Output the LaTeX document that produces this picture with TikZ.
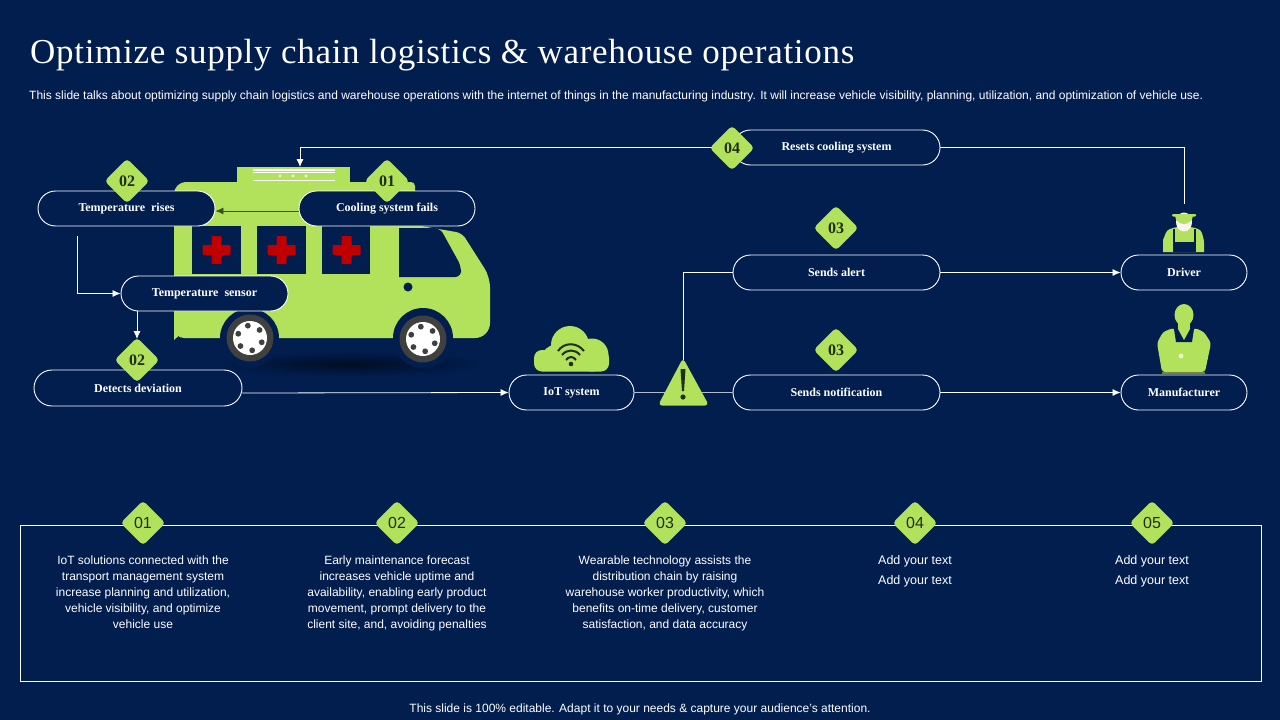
\documentclass[tikz,border=0pt]{standalone}
\usepackage{fontspec}
\setmainfont{Liberation Serif}
\newfontfamily\arialf{Liberation Sans}
\usetikzlibrary{shapes.misc,shapes.geometric,arrows.meta}
\definecolor{bgnavy}{HTML}{011E4F}
\definecolor{lime}{HTML}{B2E15C}
\definecolor{inkdark}{HTML}{1E2E10}
\definecolor{hub}{HTML}{404040}
\definecolor{crossred}{HTML}{C00000}
\tikzset{
  pill/.style={draw=white,line width=0.9pt,fill=bgnavy,rounded rectangle,inner sep=0pt,minimum height=35pt,text=white,font=\fontsize{12}{14}\selectfont\bfseries},
  badge/.style={diamond,fill=lime,rounded corners=4pt,minimum width=45pt,minimum height=45pt,inner sep=0pt,text=inkdark,font=\fontsize{16}{18}\selectfont\bfseries},
  badgeb/.style={badge,font=\arialf\fontsize{16}{18}\selectfont},
  link/.style={draw=white,line width=0.8pt},
  arrowlink/.style={link,-{Latex[length=8pt,width=7pt]}},
  bodytext/.style={text=white,align=center,font=\arialf\fontsize{12}{16}\selectfont},
}
\begin{document}
\begin{tikzpicture}[x=1pt,y=-1pt]
\useasboundingbox (0,0) rectangle (1280,720);
\fill[bgnavy] (0,0) rectangle (1280,720);
% heading
\node[anchor=base west,inner sep=0pt,text=white] (title) at (30,63) {\fontsize{35}{40}\selectfont\addfontfeature{LetterSpace=2}Optimize supply chain logistics \& warehouse operations};
\node[anchor=base west,inner sep=0pt,text=white] (sub) at (29,99) {\arialf\fontsize{12}{14}\selectfont This slide talks about optimizing supply chain logistics and warehouse operations with the internet of things in the manufacturing industry. It will increase vehicle visibility, planning, utilization, and optimization of vehicle use.};
\node[anchor=base,inner sep=0pt,text=white] (foot) at (640,712) {\arialf\fontsize{12}{14}\selectfont This slide is 100\% editable. Adapt it to your needs \& capture your audience’s attention.};
% van shadow
\shade[inner color=black!55!bgnavy,outer color=bgnavy] (350,364) ellipse (140 and 13);
% van
\fill[lime] (237,167) rectangle (350,185);
\fill[lime,rounded corners=14pt] (174,340) -- (174,182) -- (300,182) -- (300,182) [sharp corners] -- (350,182);
\fill[lime] (174,338) [rounded corners=12pt] -- (174,182) [rounded corners=4pt] -- (415,182) -- (415,225) [rounded corners=6pt] -- (462,233) [rounded corners=10pt] -- (490,277) [rounded corners=15pt] -- (490,338) [rounded corners=10pt] -- cycle;
\draw[white,line width=1.2pt] (253,170) -- (335,170);
\draw[white,line width=.6pt] (253,172.5) -- (335,172.5);
\draw[white,line width=.8pt] (253,180) -- (335,180);
\foreach \px in {280,293,306} \fill[white!80!lime] (\px,176) circle (1.7);
% windows
\fill[bgnavy] (192,226) rectangle (241,274);
\fill[bgnavy] (257,226) rectangle (306,274);
\fill[bgnavy] (322,226) rectangle (370,274);
\foreach \cx in {216.5,281.5,346.5} {
  \fill[crossred,rounded corners=1pt] (\cx-5,236) rectangle (\cx+5,264);
  \fill[crossred,rounded corners=1pt] (\cx-14,245) rectangle (\cx+14,255);
}
\fill[bgnavy] (399,228) [rounded corners=6pt] -- (440,228) -- (461,266) -- (461,277) [sharp corners] -- (399,277) -- cycle;
\fill[bgnavy] (408,287) circle (4.5);
% wheels
\fill[bgnavy] (220,338) arc[start angle=180,end angle=360,radius=0] ;
\fill[bgnavy] (249.5,338) circle (29.5);
\fill[bgnavy] (423,338) circle (30);
\foreach \wx/\wy in {250/338,423/339} {
  \fill[hub] (\wx,\wy) circle (23.5);
  \fill[white] (\wx,\wy) circle (17);
  \foreach \ang in {20,80,140,200,260,320} \fill[hub] (\wx,\wy) ++(\ang:12.5) circle (2.9);
}
% cloud
\fill[lime] (555,358) circle (13);
\fill[lime] (570,345) circle (19);
\fill[lime] (592,355) circle (16.5);
\fill[lime,rounded corners=8pt] (534,350) rectangle (609,371.5);
\draw[inkdark,line width=2pt] (558,351) .. controls (564,342) and (577,342) .. (584,351);
\draw[inkdark,line width=2pt] (562,355) .. controls (567,349) and (575,349) .. (580,355);
\draw[inkdark,line width=2pt] (566,360) .. controls (569,356) and (573,356) .. (576,360);
\fill[inkdark] (571,364) circle (2.3);
% driver
\fill[lime] (1163,252) -- (1163,240) [rounded corners=3pt] -- (1167,230) -- (1176,227) -- (1192,227) -- (1201,230) -- (1204,240) [sharp corners] -- (1204,252) -- cycle;
\fill[bgnavy] (1174,242) rectangle (1195,252);
\fill[bgnavy] (1172.5,229) rectangle (1174.5,252);
\fill[bgnavy] (1193.5,229) rectangle (1195.5,252);
\fill[bgnavy] (1195,241) rectangle (1196,252);
\fill[white!80!pink] (1184,222) ellipse (8 and 9.5);
\fill[lime] (1175,215) arc[start angle=180,end angle=0,radius=9] -- cycle;
\fill[lime,rounded corners=1pt] (1172,214) rectangle (1196,216.5);
% manufacturer
\fill[lime] (1184,315) ellipse (9.5 and 11);
\fill[lime] (1178,320) rectangle (1190,329);
\fill[lime,rounded corners=3pt] (1173,328) -- (1184,334) -- (1195,328) -- (1204,332) -- (1211,343) -- (1205,372) -- (1162,372) -- (1157,343) -- (1163,332) -- cycle;
\fill[bgnavy] (1174,329) -- (1179,329) -- (1184,337) -- (1189,329) -- (1194,329) -- (1192,342) -- (1176,342) -- cycle;
\fill[lime] (1178,329) -- (1184,340) -- (1190,329) -- (1188,326) -- (1180,326) -- cycle;
\fill[white!70!lime] (1181,356) circle (2.5);
\fill[lime!60!black] (1162,372) rectangle (1205,374);
% boxes
\draw[white,line width=.9pt] (20.5,525) rectangle (1261,681);
% warning triangle
\node[regular polygon,regular polygon sides=3,fill=lime,minimum size=2pt,inner sep=0pt,opacity=0] (warnanchor) at (683,392) {};
\coordinate (warntop) at (683,360);
\coordinate (warnleft) at (659,393);
\coordinate (warnright) at (708,393);
\coordinate (coolin) at (300,167);
\coordinate (drivertop) at (1184,204);
\coordinate (diamondtop) at (137,339);
% pills
\node[pill,minimum width=177pt] (rises) at (126.5,208.5) {Temperature\ \ rises};
\node[pill,minimum width=176pt] (fails) at (387,208.5) {Cooling\ system\ fails};
\node[pill,minimum width=167pt] (sensor) at (204.5,293.5) {Temperature\ \ sensor};
\node[pill,minimum width=208pt,minimum height=36pt] (detect) at (138,388) {Detects deviation};
\node[pill,minimum width=125pt] (iot) at (571.5,392.5) {IoT system};
\node[pill,minimum width=207pt] (notify) at (836.5,392.5) {Sends notification};
\node[pill,minimum width=207pt] (alert) at (836.5,272.5) {Sends alert};
\node[pill,minimum width=207pt] (resets) at (836.5,147.5) {Resets cooling system};
\node[pill,minimum width=126pt] (driver) at (1184,272.5) {Driver};
\node[pill,minimum width=126pt] (maker) at (1184,392.5) {Manufacturer};
% connectors
\draw[arrowlink] (resets.west) -| (coolin);
\draw[link] (resets.east) -| (drivertop);
\draw[arrowlink] (alert.east) -- (driver.west);
\draw[arrowlink] (notify.east) -- (maker.west);
\draw[link] (alert.west) -| (warntop);
\draw[white!70!bgnavy,line width=.8pt] (iot.east) -- (notify.west);
\draw[arrowlink] ([yshift=-5pt]detect.east) -- (iot.west);
\draw[draw=lime!35!black,line width=.8pt,-{Latex[length=8pt,width=7pt]}] ([yshift=-2.5pt]fails.west) -- ([yshift=-2.5pt]rises.east);
\draw[arrowlink] ([xshift=-49.5pt,yshift=-10pt]rises.south) |- (sensor.west);
\draw[arrowlink] ([xshift=-67.5pt]sensor.south) -- (diamondtop);
% warning icon
\fill[lime,rounded corners=4pt] (683,358) -- (709,405.5) -- (658,405.5) -- cycle;
\fill[inkdark] (680.5,369) -- (685.5,369) -- (684,391) -- (682,391) -- cycle;
\fill[inkdark] (683,397) circle (2.6);
% badges
\node[badge] (b1) at (127,181) {02};
\node[badge] (b2) at (387,181) {01};
\node[badge] (b3) at (137,360) {02};
\node[badge] (b4) at (732,148) {04};
\node[badge] (b5) at (836,228) {03};
\node[badge] (b6) at (836,350) {03};
\node[badgeb] (c1) at (143,523) {01};
\node[badgeb] (c2) at (397,523) {02};
\node[badgeb] (c3) at (665,523) {03};
\node[badgeb] (c4) at (915,523) {04};
\node[badgeb] (c5) at (1152,523) {05};
% bottom text
\node[bodytext,anchor=north] (t1) at (143,552) {IoT solutions connected with the\\transport management system\\increase planning and utilization,\\vehicle visibility, and optimize\\vehicle use};
\node[bodytext,anchor=north] (t2) at (397,552) {Early maintenance forecast\\increases vehicle uptime and\\availability, enabling early product\\movement, prompt delivery to the\\client site, and, avoiding penalties};
\node[bodytext,anchor=north] (t3) at (665,552) {Wearable technology assists the\\distribution chain by raising\\warehouse worker productivity, which\\benefits on-time delivery, customer\\satisfaction, and data accuracy};
\node[bodytext,anchor=north,font=\arialf\fontsize{12.5}{20}\selectfont] (t4) at (915,552) {Add your text\\Add your text};
\node[bodytext,anchor=north,font=\arialf\fontsize{12.5}{20}\selectfont] (t5) at (1152,552) {Add your text\\Add your text};
\end{tikzpicture}
\end{document}
